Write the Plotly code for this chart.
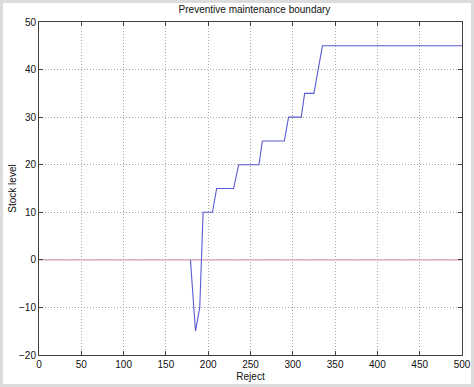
import plotly.graph_objects as go

# Data
reject = [179, 185, 190, 194, 205, 210, 230, 236, 260, 264, 290, 295, 310, 314, 325, 335, 500]
stock = [0, -15, -10, 10, 10, 15, 15, 20, 20, 25, 25, 30, 30, 35, 35, 45, 45]
boundary_x = [0, 500]
boundary_y = [0, 0]

x_ticks = [0, 50, 100, 150, 200, 250, 300, 350, 400, 450, 500]
y_ticks = [-20, -10, 0, 10, 20, 30, 40, 50]

W, H = 474, 387
L, R, T, B = 39, 12, 22, 32
pw, ph = W - L - R, H - T - B

FONT = "Liberation Sans, Arial"
FS = 10

def px_x(p):
    return (p - L) / pw

def px_y(p):
    return (H - B - p) / ph

fig = go.Figure()
fig.add_trace(go.Scatter(x=boundary_x, y=boundary_y, mode="lines",
                         line=dict(color="#d7a0b4", width=1.2), hoverinfo="skip"))
fig.add_trace(go.Scatter(x=reject, y=stock, mode="lines",
                         line=dict(color="#5a5ad2", width=1.1), hoverinfo="skip"))

axis_common = dict(
    showgrid=True, gridcolor="#a8a8a8", griddash="1px,2px", gridwidth=1,
    zeroline=False, showline=True, linecolor="#404040", linewidth=1, mirror="ticks",
    ticks="inside", ticklen=4, tickcolor="#404040", automargin=False,
    tickfont=dict(family=FONT, size=FS, color="#111"),
)

fig.update_layout(
    width=W, height=H,
    margin=dict(l=L, r=R, t=T, b=B),
    paper_bgcolor="#dcdcdc",
    plot_bgcolor="white",
    showlegend=False,
    title=dict(text="Preventive maintenance boundary", x=0.5 + 4 / pw,
               xref="paper", xanchor="center",
               y=1 - 9 / H, yanchor="middle",
               font=dict(family=FONT, size=FS, color="#111")),
    xaxis=dict(range=[0, 500], tickvals=x_ticks,
               title=dict(text="Reject", standoff=3,
                          font=dict(family=FONT, size=FS, color="#111")),
               **axis_common),
    yaxis=dict(range=[-20, 50], tickvals=y_ticks,
               title=dict(text="Stock level", standoff=0,
                          font=dict(family=FONT, size=FS, color="#111")),
               **axis_common),
    shapes=[dict(type="rect", xref="paper", yref="paper",
                 x0=px_x(3), x1=px_x(471), y0=px_y(384), y1=px_y(3),
                 fillcolor="white", line=dict(width=0), layer="below")],
)

fig.write_html("out.html")
